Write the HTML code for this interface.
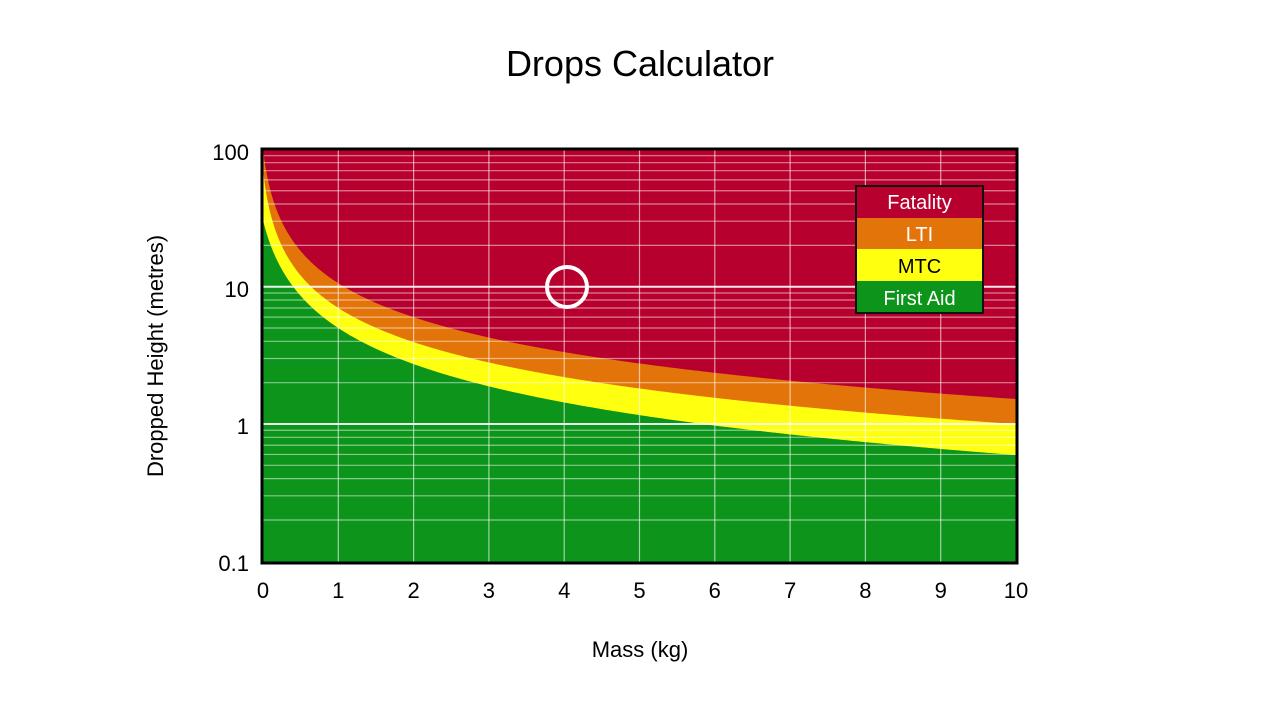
<!DOCTYPE html>
<html><head><meta charset="utf-8"><style>
html,body{margin:0;padding:0;background:#fff;}
svg{display:block;font-family:"Liberation Sans",sans-serif;}
</style></head><body>
<svg id="s" width="1280" height="720" viewBox="0 0 1280 720" xmlns="http://www.w3.org/2000/svg">
<rect width="1280" height="720" fill="#fff"/>
<text x="640" y="76" font-size="36" text-anchor="middle" fill="#000">Drops Calculator</text>
<defs><clipPath id="c"><rect x="263" y="150" width="753" height="412"/></clipPath></defs>
<g clip-path="url(#c)">
<rect x="263" y="150" width="753" height="412" fill="#b8002e"/>
<path id="po" fill="#e2740a"/>
<path id="py" fill="#ffff10"/>
<path id="pg" fill="#0c941b"/>
<g id="grid"></g>
</g>
<rect x="262" y="149" width="755" height="414" fill="none" stroke="#000" stroke-width="3"/>
<circle cx="567" cy="287" r="20" fill="none" stroke="#fff" stroke-width="4"/>
<g>
<rect x="856" y="186" width="127" height="32" fill="#b8002e"/>
<rect x="856" y="218" width="127" height="31" fill="#e2740a"/>
<rect x="856" y="249" width="127" height="32" fill="#ffff10"/>
<rect x="856" y="281" width="127" height="32" fill="#0c941b"/>
<rect x="856" y="186" width="127" height="127" fill="none" stroke="#111" stroke-width="2"/>
<text x="919.5" y="209" font-size="20" text-anchor="middle" fill="#fff">Fatality</text>
<text x="919.5" y="241" font-size="20" text-anchor="middle" fill="#fff">LTI</text>
<text x="919.5" y="273" font-size="20" text-anchor="middle" fill="#000">MTC</text>
<text x="919.5" y="305" font-size="20" text-anchor="middle" fill="#fff">First Aid</text>
</g>
<g font-size="22" text-anchor="end" fill="#000">
<text x="249" y="160">100</text>
<text x="249" y="297">10</text>
<text x="249" y="434">1</text>
<text x="249" y="571">0.1</text>
</g>
<g id="xt" font-size="22" text-anchor="middle" fill="#000"></g>
<text x="640" y="657" font-size="22" text-anchor="middle" fill="#000">Mass (kg)</text>
<text transform="translate(163,356) rotate(-90)" font-size="22" text-anchor="middle" fill="#000">Dropped Height (metres)</text>
</svg>
<script>
var X0=263,PX=75.3;
function Y(h){return 424-137.3*Math.log10(h);}
var g=document.getElementById('grid'),s='';
for(var i=1;i<10;i++){var x=X0+i*PX;s+='<line x1="'+x+'" y1="150" x2="'+x+'" y2="562" stroke="#fff" stroke-opacity="0.6" stroke-width="1.2"/>';}
[0.1,1,10].forEach(function(d){for(var k=2;k<10;k++){var y=Y(d*k);s+='<line x1="263" y1="'+y+'" x2="1016" y2="'+y+'" stroke="#fff" stroke-opacity="0.5" stroke-width="1.2"/>';}});
[1,10].forEach(function(h){var y=Y(h);s+='<line x1="263" y1="'+y+'" x2="1016" y2="'+y+'" stroke="#fff" stroke-opacity="0.9" stroke-width="2"/>';});
g.innerHTML=s;
var xt='';for(var i=0;i<=10;i++){xt+='<text x="'+(X0+i*PX)+'" y="598">'+i+'</text>';}
document.getElementById('xt').innerHTML=xt;
function curve(h1,c,k){
 var d='M255,'+Y(h1*Math.pow((1+c)/c,k));
 for(var i=0;i<=400;i++){var m=i*i/16000*1.0125;var h=h1*Math.pow((1+c)/(m+c),k);d+='L'+(X0+m*PX).toFixed(2)+','+Y(h).toFixed(2);}
 d+='L1030,'+Y(h1*Math.pow((1+c)/(10.3+c),k))+'L1030,570L255,570Z';return d;
}
document.getElementById('po').setAttribute('d',curve(10.6,0.082,0.87));
document.getElementById('py').setAttribute('d',curve(7,0.075,0.87));
document.getElementById('pg').setAttribute('d',curve(5,0.193,0.993));
</script>
</body></html>
